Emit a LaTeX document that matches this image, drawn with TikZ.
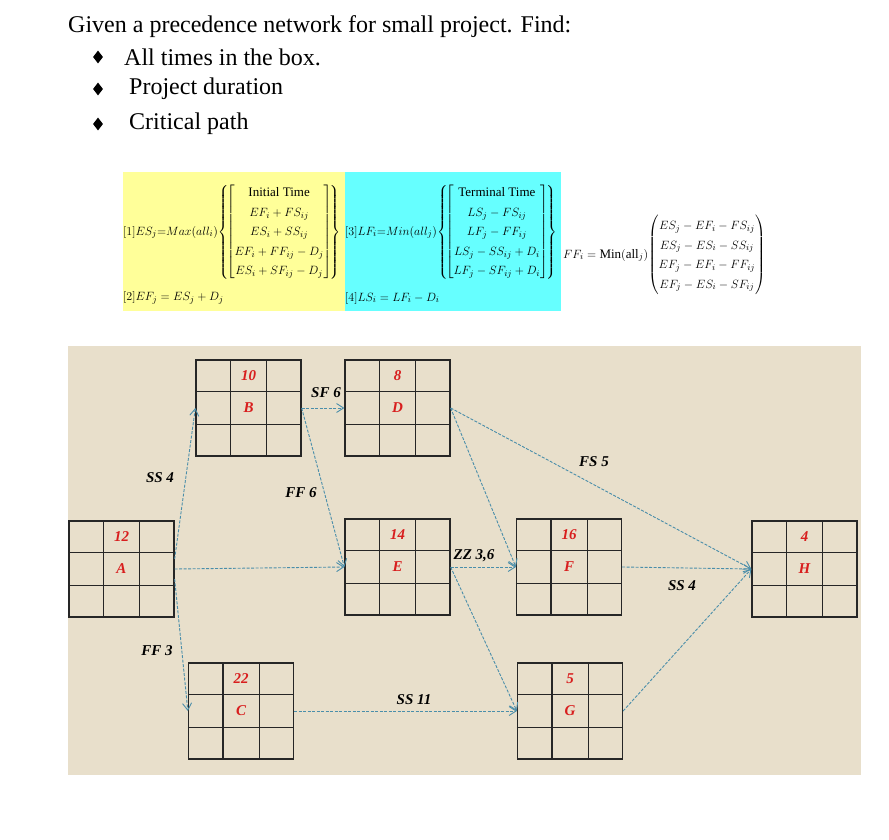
\documentclass[tikz,border=0pt]{standalone}
\usepackage{fontspec}
\usepackage{amsmath}
\setmainfont{Liberation Serif}
\usetikzlibrary{arrows.meta,shapes.geometric}
\definecolor{bg}{HTML}{E8DFCB}
\definecolor{arr}{HTML}{4A8EAA}
\definecolor{rd}{HTML}{D81E1E}
\definecolor{yel}{HTML}{FFFF99}
\definecolor{cy}{HTML}{66FFFF}
\tikzset{
 act/.style={draw=black!85,line width=1.3pt,minimum width=105pt,minimum height=96pt,inner sep=0},
 con/.style={draw=arr,dashed,dash pattern=on 3pt off 1.5pt,line width=0.9pt,-{Straight Barb[length=7pt,width=9pt]}},
 lab/.style={font=\fontsize{15}{17}\selectfont\bfseries\itshape},
 num/.style={text=rd,font=\fontsize{15}{17}\selectfont\bfseries\itshape},
 bul/.style={diamond,fill=black,inner sep=0,minimum width=10pt,minimum height=13pt},
 txt/.style={font=\fontsize{24}{26}\selectfont,anchor=west,inner sep=0},
 fm/.style={anchor=west,inner sep=0,font=\fontsize{13}{15}\selectfont}
}
\newcommand{\actbox}[5]{%
 \node[act] (#1) at (#2,#3) {};
 \draw[black!85,line width=1.3pt] ([xshift=35pt]#1.north west) -- ([xshift=35pt]#1.south west)
   ([xshift=-35pt]#1.north east) -- ([xshift=-35pt]#1.south east)
   ([yshift=-32pt]#1.north west) -- ([yshift=-32pt]#1.north east)
   ([yshift=32pt]#1.south west) -- ([yshift=32pt]#1.south east);
 \node[num] at ([yshift=-16pt]#1.north) {#4};
 \node[num] at (#1.center) {#5};
}
\begin{document}
\begin{tikzpicture}[x=1pt,y=-1pt]
\useasboundingbox[fill=white] (0,0) rectangle (889,840);
\node[txt] (t0) at (68,27) {Given a precedence network for small project. Find:};
\node[bul] (b1) at (98,57) {}; \node[txt] (t1) at (124,57) {All times in the box.};
\node[bul] (b2) at (98,89) {}; \node[txt] (t2) at (129,89) {Project duration};
\node[bul] (b3) at (98,124) {}; \node[txt] (t3) at (129,124) {Critical path};
% formula panels
\fill[yel] (123,172) rectangle (345,311);
\fill[cy] (345,172) rectangle (561,311);
\renewcommand{\arraystretch}{1.3}
\node[fm] (f1) at (123,232) {$[1]ES_j{=}Max(all_i)\!\left\{\!\begin{bmatrix}\text{Initial Time}\\ EF_i+FS_{ij}\\ ES_i+SS_{ij}\\ EF_i+FF_{ij}-D_j\\ ES_i+SF_{ij}-D_j\end{bmatrix}\!\right\}$};
\node[fm] (f2) at (123,298) {$[2]EF_j=ES_j+D_j$};
\node[fm] (f3) at (345,232) {$[3]LF_i{=}Min(all_j)\!\left\{\!\begin{bmatrix}\text{Terminal Time}\\ LS_j-FS_{ij}\\ LF_j-FF_{ij}\\ LS_j-SS_{ij}+D_i\\ LF_j-SF_{ij}+D_i\end{bmatrix}\!\right\}$};
\node[fm] (f4) at (345,298) {$[4]LS_i=LF_i-D_i$};
\node[fm] (f5) at (563,255) {$FF_i=\mathrm{Min}(\mathrm{all}_j)\!\begin{pmatrix}ES_j-EF_i-FS_{ij}\\ ES_j-ES_i-SS_{ij}\\ EF_j-EF_i-FF_{ij}\\ EF_j-ES_i-SF_{ij}\end{pmatrix}$};
% network
\fill[bg] (68,346) rectangle (861,775);
\actbox{A}{121.5}{569}{12}{A}
\actbox{B}{248.5}{408}{10}{B}
\actbox{D}{397.5}{408}{8}{D}
\actbox{E}{397.5}{567}{14}{E}
\actbox{F}{569}{567}{16}{F}
\actbox{H}{804.5}{569}{4}{H}
\actbox{C}{241}{711}{22}{C}
\actbox{G}{570}{711}{5}{G}
\draw[con] ([yshift=10pt]A.east) -- (B.west);
\draw[con] (A.east) -- (E.west);
\draw[con] ([yshift=-10pt]A.east) -- (C.west);
\draw[con] (B.east) -- (D.west);
\draw[con] (B.east) -- (E.west);
\draw[con] (D.east) -- (F.west);
\draw[con] (D.east) -- (H.west);
\draw[con] (E.east) -- (F.west);
\draw[con] (E.east) -- (G.west);
\draw[con] (F.east) -- (H.west);
\draw[con] (C.east) -- (G.west);
\draw[con] (G.east) -- (H.west);
\node[lab] (l1) at (160,478) {SS 4};
\node[lab] (l2) at (301,493) {FF 6};
\node[lab] (l3) at (326,393) {SF 6};
\node[lab] (l4) at (594,462) {FS 5};
\node[lab] (l5) at (474,556) {ZZ 3,6};
\node[lab] (l6) at (682,586) {SS 4};
\node[lab] (l7) at (157,651) {FF 3};
\node[lab] (l8) at (414,700) {SS 11};
\end{tikzpicture}
\end{document}
